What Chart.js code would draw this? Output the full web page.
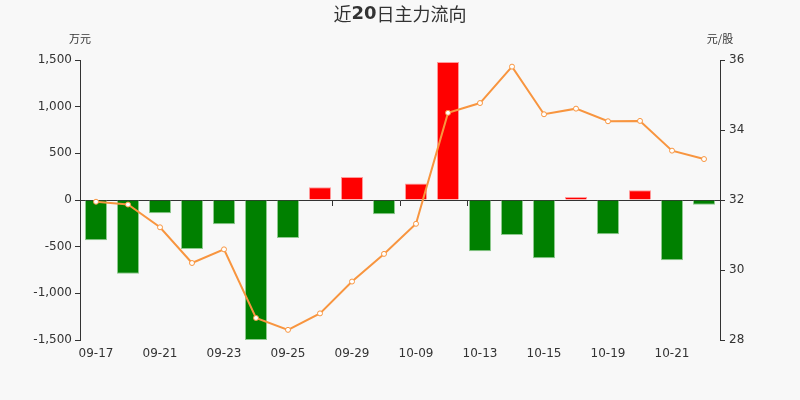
<!DOCTYPE html>
<html>
<head>
<meta charset="utf-8">
<title>近20日主力流向</title>
<script src="https://cdn.jsdelivr.net/npm/chart.js@4/dist/chart.umd.min.js"></script>
<style>
    html, body { margin: 0; padding: 0; background: #f8f8f8; }
    canvas { display: block; }
</style>
</head>
<body>
<canvas id="flowChart" width="800" height="400"></canvas>
<script>
// data
const dates = ['09-17', '09-18', '09-21', '09-22', '09-23', '09-24', '09-25', '09-28', '09-29', '09-30',
               '10-09', '10-12', '10-13', '10-14', '10-15', '10-16', '10-19', '10-20', '10-21', '10-22'];
// main net inflow, 万元
const mainFlow = [-432, -790, -143, -525, -261, -1500, -407, 136, 246, -153,
                  178, 1479, -550, -375, -625, 32, -368, 104, -646, -50];
// close price, 元/股
const closePrice = [31.95, 31.87, 31.22, 30.20, 30.59, 28.63, 28.29, 28.76, 29.67, 30.46,
                    31.32, 34.49, 34.77, 35.81, 34.45, 34.61, 34.25, 34.26, 33.41, 33.17];

const flowMin = -1500, flowMax = 1500, flowStep = 500;
const priceMin = 28, priceMax = 36, priceStep = 2;

const axisColor = '#333';
const lineColor = '#f8953f';

Chart.defaults.font.family = '"DejaVu Sans", "Noto Sans CJK SC", sans-serif';
Chart.defaults.font.size = 12;
Chart.defaults.color = axisColor;

// title and the two unit captions
const captions = {
    id: 'captions',
    afterDraw(chart) {
        const ctx = chart.ctx;
        const area = chart.chartArea;
        ctx.save();
        ctx.fillStyle = axisColor;
        ctx.textBaseline = 'middle';

        // title, with the number in bold
        const parts = [
            { text: '近', font: '18px "Noto Sans CJK SC", sans-serif' },
            { text: '20', font: 'bold 18px "DejaVu Sans", sans-serif' },
            { text: '日主力流向', font: '18px "Noto Sans CJK SC", sans-serif' }
        ];
        let total = 0;
        parts.forEach(p => { ctx.font = p.font; p.w = ctx.measureText(p.text).width; total += p.w; });
        let x = (area.left + area.right) / 2 - total / 2;
        ctx.textAlign = 'left';
        parts.forEach(p => { ctx.font = p.font; ctx.fillText(p.text, x, 14); x += p.w; });

        ctx.font = '11px "Noto Sans CJK SC", sans-serif';
        ctx.textAlign = 'center';
        ctx.fillText('万元', area.left, 39);
        ctx.fillText('元/股', area.right, 39);
        ctx.restore();
    }
};

new Chart(document.getElementById('flowChart'), {
    data: {
        labels: dates,
        datasets: [
            {
                type: 'line',
                label: '收盘价',
                data: closePrice,
                yAxisID: 'y1',
                xAxisID: 'x',
                order: 0,
                borderColor: lineColor,
                borderWidth: 2,
                tension: 0,
                pointRadius: 2.5,
                pointBackgroundColor: '#fff',
                pointBorderColor: lineColor,
                pointBorderWidth: 1
            },
            {
                type: 'bar',
                label: '主力净流入',
                data: mainFlow,
                yAxisID: 'y',
                xAxisID: 'x',
                order: 1,
                backgroundColor: mainFlow.map(v => v >= 0 ? '#ff0000' : '#008000'),
                borderColor: mainFlow.map(v => v >= 0 ? '#ff9a9a' : '#8fc98f'),
                borderWidth: 1,
                categoryPercentage: 1,
                barPercentage: 0.69
            }
        ]
    },
    options: {
        responsive: false,
        animation: false,
        layout: { padding: { top: 60, left: 0, right: 0, bottom: 0 } },
        plugins: {
            legend: { display: false },
            tooltip: { enabled: false }
        },
        scales: {
            x: {
                type: 'category',
                position: 'bottom',
                grid: { display: false, drawTicks: false },
                border: { display: false },
                ticks: {
                    autoSkip: false,
                    maxRotation: 0,
                    padding: 7,
                    callback: (value, index) => index % 2 === 0 ? dates[index] : ''
                },
                afterFit: scale => { scale.height = 60; }
            },
            // axis line that sits on the zero of the flow axis
            x2: {
                type: 'category',
                axis: 'x',
                position: { y: 0 },
                grid: {
                    offset: true,
                    drawOnChartArea: false,
                    tickLength: 5,
                    color: ctx => ctx.index % 2 === 0 ? axisColor : 'rgba(0,0,0,0)'
                },
                border: { color: axisColor, width: 1 },
                ticks: { display: false }
            },
            y: {
                position: 'left',
                min: flowMin,
                max: flowMax,
                ticks: { stepSize: flowStep, padding: 3 },
                grid: { drawOnChartArea: false, tickLength: 5, color: axisColor },
                border: { color: axisColor },
                afterFit: scale => { scale.width = 80; }
            },
            y1: {
                position: 'right',
                min: priceMin,
                max: priceMax,
                ticks: { stepSize: priceStep, padding: 4 },
                grid: { drawOnChartArea: false, tickLength: 5, color: axisColor },
                border: { color: axisColor },
                afterFit: scale => { scale.width = 80; }
            }
        }
    },
    plugins: [captions]
});
</script>
</body>
</html>
